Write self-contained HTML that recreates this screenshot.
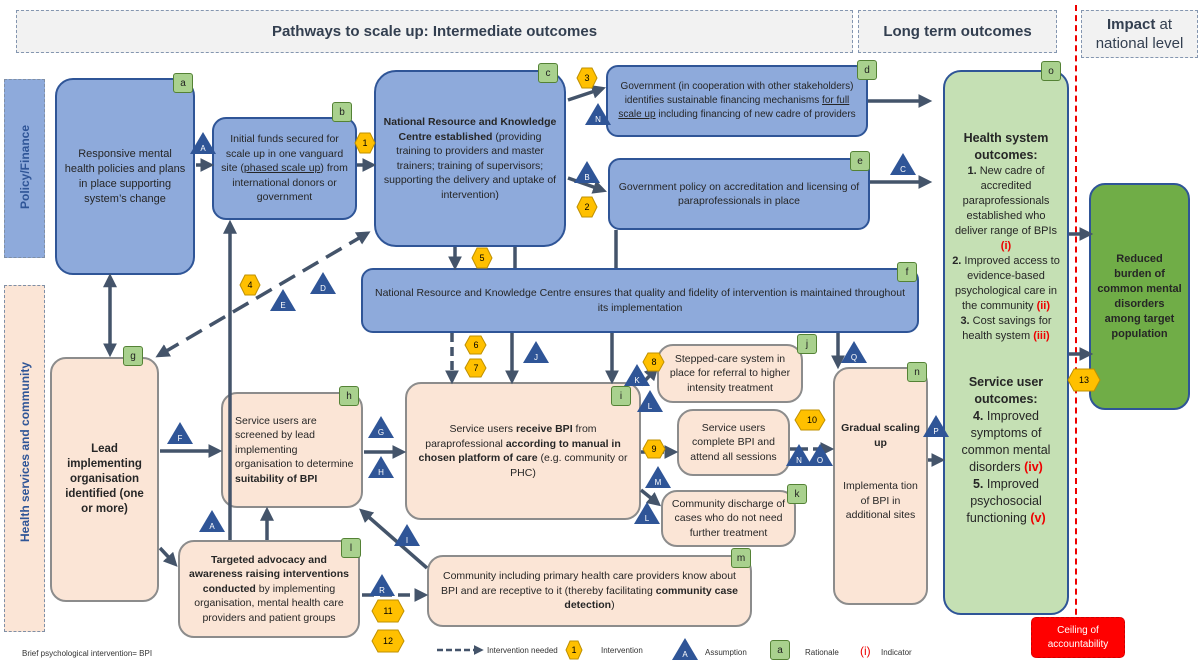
<!DOCTYPE html>
<html><head><meta charset="utf-8"><style>
body{margin:0;background:#fff;}
#w{position:relative;width:1200px;height:665px;overflow:hidden;font-family:"Liberation Sans",sans-serif;color:#262626;}
.b{position:absolute;box-sizing:border-box;display:flex;align-items:center;justify-content:center;text-align:center;font-size:10.5px;line-height:14.5px;padding:4px 6px;}
.bl{background:#8eaadb;border:2px solid #2f5597;border-radius:18px;}
.pe{background:#fbe5d6;border:2px solid #8c8c8c;border-radius:16px;}
.hd{position:absolute;box-sizing:border-box;background:#f2f2f2;border:1.5px dashed #8496b0;display:flex;align-items:center;justify-content:center;font-weight:bold;color:#333f50;font-size:15px;}
.lab{position:absolute;width:20px;height:20px;box-sizing:border-box;background:#a9d18e;border:1.5px solid #548235;border-radius:3px;font-size:10px;display:flex;align-items:center;justify-content:center;color:#222;}
.side{position:absolute;box-sizing:border-box;border:1.5px dashed #7f8fa6;}
.vt{position:absolute;transform:rotate(-90deg);font-weight:bold;font-size:12px;color:#2f5597;white-space:nowrap;}
.r{color:#e00;font-weight:bold}
</style></head><body><div id="w">
<div class="hd" style="left:16px;top:10px;width:837px;height:43px;">Pathways to scale up: Intermediate outcomes</div>
<div class="hd" style="left:858px;top:10px;width:199px;height:43px;">Long term outcomes</div>
<div class="hd" style="left:1081px;top:10px;width:117px;height:48px;font-weight:normal;line-height:19px;flex-direction:column;"><span><b>Impact</b> at</span><span>national level</span></div>
<div style="position:absolute;left:1075px;top:5px;height:640px;border-left:2px dashed #e00;"></div>

<div class="side" style="left:4px;top:79px;width:41px;height:179px;background:#8eaadb;"></div>
<div class="vt" style="left:-20px;top:160px;width:90px;text-align:center;">Policy/Finance</div>
<div class="side" style="left:4px;top:285px;width:41px;height:347px;background:#fbe5d6;"></div>
<div class="vt" style="left:-60px;top:450px;width:170px;text-align:center;">Health services and community</div>

<div class="b bl" style="left:55px;top:78px;width:140px;height:197px;font-size:11px;line-height:15px;"><span>Responsive mental health policies and plans in place supporting system’s change</span></div>
<div class="b bl" style="left:212px;top:117px;width:145px;height:103px;border-radius:14px;"><span>Initial funds secured for scale up in one vanguard site (<u>phased scale up</u>) from international donors or government</span></div>
<div class="b bl" style="left:374px;top:70px;width:192px;height:177px;border-radius:22px;"><span><b>National Resource and Knowledge Centre established</b> (providing training to providers and master trainers; training of supervisors; supporting the delivery and uptake of intervention)</span></div>
<div class="b bl" style="left:606px;top:65px;width:262px;height:72px;border-radius:12px;font-size:10px;line-height:14px;"><span>Government (in cooperation with other stakeholders) identifies sustainable financing mechanisms <u>for full scale up</u> including financing of new cadre of providers</span></div>
<div class="b bl" style="left:608px;top:158px;width:262px;height:72px;border-radius:12px;"><span>Government policy on accreditation and licensing of paraprofessionals in place</span></div>
<div class="b bl" style="left:361px;top:268px;width:558px;height:65px;border-radius:12px;"><span>National Resource and Knowledge Centre ensures that quality and fidelity of intervention is maintained throughout its implementation</span></div>

<div class="b pe" style="left:50px;top:357px;width:109px;height:245px;font-size:11.5px;line-height:15px;"><b>Lead implementing organisation identified (one or more)</b></div>
<div class="b pe" style="left:221px;top:392px;width:142px;height:116px;text-align:left;justify-content:flex-start;padding-left:12px;"><span>Service users are screened by lead implementing organisation to determine <b>suitability of BPI</b></span></div>
<div class="b pe" style="left:405px;top:382px;width:236px;height:138px;"><span>Service users <b>receive BPI</b> from paraprofessional <b>according to manual in chosen platform of care</b> (e.g. community or PHC)</span></div>
<div class="b pe" style="left:657px;top:344px;width:146px;height:59px;padding-top:0;padding-bottom:0;"><span>Stepped-care system in place for referral to higher intensity treatment</span></div>
<div class="b pe" style="left:677px;top:409px;width:113px;height:67px;"><span>Service users complete BPI and attend all sessions</span></div>
<div class="b pe" style="left:661px;top:490px;width:135px;height:57px;padding-top:0;padding-bottom:0;"><span>Community discharge of cases who do not need further treatment</span></div>
<div class="b pe" style="left:178px;top:540px;width:182px;height:98px;"><span><b>Targeted advocacy and awareness raising interventions conducted</b> by implementing organisation, mental health care providers and patient groups</span></div>
<div class="b pe" style="left:427px;top:555px;width:325px;height:72px;"><span>Community including primary health care providers know about BPI and are receptive to it (thereby facilitating <b>community case detection</b>)</span></div>
<div class="b pe" style="left:833px;top:367px;width:95px;height:238px;flex-direction:column;justify-content:flex-start;padding-top:52px;"><b>Gradual scaling up</b><br><br><span>Implementa tion of BPI in additional sites</span></div>

<div class="b" style="left:943px;top:70px;width:126px;height:545px;background:#c5e0b4;border:2px solid #2f5597;border-radius:18px;flex-direction:column;justify-content:flex-start;padding:58px 4px 0;font-size:11px;line-height:15px;">
<b style="font-size:12.5px;line-height:17px">Health system outcomes:</b>
<span><b>1.</b> New cadre of accredited paraprofessionals established who deliver range of BPIs <span class="r">(i)</span></span>
<span><b>2.</b> Improved access to evidence-based psychological care in the community <span class="r">(ii)</span></span>
<span><b>3.</b> Cost savings for health system <span class="r">(iii)</span></span>
<br><br>
<b style="font-size:12.5px;line-height:17px">Service user outcomes:</b>
<span style="font-size:12.5px;line-height:17px"><b>4.</b> Improved symptoms of common mental disorders <span class="r">(iv)</span></span>
<span style="font-size:12.5px;line-height:17px"><b>5.</b> Improved psychosocial functioning <span class="r">(v)</span></span>
</div>
<div class="b" style="left:1089px;top:183px;width:101px;height:227px;background:#70ad47;border:2px solid #2f5597;border-radius:16px;font-size:11px;line-height:15px;"><b>Reduced burden of common mental disorders among target population</b></div>
<div class="b" style="left:1031px;top:617px;width:94px;height:41px;background:#ff0000;border:1.5px dashed #c00;border-radius:5px;color:#fff;font-size:10px;line-height:14px;"><span>Ceiling of accountability</span></div>

<svg style="position:absolute;left:0;top:0" width="1200" height="665">
<defs><marker id="ah" markerWidth="4" markerHeight="4" refX="2.5" refY="2" orient="auto" markerUnits="strokeWidth"><path d="M0,0 L4,2 L0,4 z" fill="#44546a"/></marker>
<marker id="as" markerWidth="4" markerHeight="4" refX="1.5" refY="2" orient="auto-start-reverse" markerUnits="strokeWidth"><path d="M0,0 L4,2 L0,4 z" fill="#44546a"/></marker></defs>
<g stroke="#44546a" stroke-width="3.5" fill="none" marker-end="url(#ah)">
<line x1="196" y1="165" x2="209" y2="165"/>
<line x1="357" y1="165" x2="371" y2="165"/>
<line x1="568" y1="100" x2="601" y2="89"/>
<line x1="568" y1="178" x2="602" y2="190"/>
<line x1="868" y1="101" x2="927" y2="101"/>
<line x1="870" y1="182" x2="927" y2="182"/>
<line x1="1069" y1="234" x2="1088" y2="234"/>
<line x1="1069" y1="354" x2="1088" y2="354"/>
<line x1="455" y1="247" x2="455" y2="265"/>
<line x1="512" y1="333" x2="512" y2="379"/>
<line x1="612" y1="333" x2="612" y2="379"/>
<line x1="838" y1="333" x2="838" y2="364"/>
<line x1="230" y1="540" x2="230" y2="225"/>
<line x1="267" y1="540" x2="267" y2="512"/>
<line x1="160" y1="451" x2="217" y2="451"/>
<line x1="364" y1="452" x2="401" y2="452"/>
<line x1="160" y1="548" x2="174" y2="563"/>
<line x1="427" y1="568" x2="363" y2="512"/>
<line x1="641" y1="385" x2="655" y2="370"/>
<line x1="641" y1="490" x2="657" y2="503"/>
<line x1="928" y1="460" x2="940" y2="460"/>
<line x1="110" y1="282" x2="110" y2="352" marker-start="url(#as)"/>
<line x1="799" y1="449" x2="829" y2="449" stroke-dasharray="9,5"/>
<line x1="641" y1="452" x2="673" y2="452" stroke-dasharray="9,5"/>
<line x1="452" y1="333" x2="452" y2="379" stroke-dasharray="9,5"/>
<line x1="362" y1="595" x2="423" y2="595" stroke-dasharray="12,6"/>
<line x1="163" y1="353" x2="366" y2="234" stroke-dasharray="18,9" marker-start="url(#as)"/>
<line x1="437" y1="650" x2="480" y2="650" stroke-width="2.5" stroke-dasharray="6,3"/>
</g>
<g stroke="#44546a" stroke-width="3.5"><line x1="515" y1="247" x2="515" y2="268"/><line x1="616" y1="230" x2="616" y2="268"/><line x1="790" y1="449" x2="800" y2="449"/></g>
<g font-family="Liberation Sans" font-size="9" text-anchor="middle">
<polygon points="355,143 360,133 370,133 375,143 370,153 360,153" fill="#ffc000" stroke="#bf9000"/><text x="365" y="146">1</text>
<polygon points="577,207 582,197 592,197 597,207 592,217 582,217" fill="#ffc000" stroke="#bf9000"/><text x="587" y="210">2</text>
<polygon points="577,78 582,68 592,68 597,78 592,88 582,88" fill="#ffc000" stroke="#bf9000"/><text x="587" y="81">3</text>
<polygon points="240,285 245,275 255,275 260,285 255,295 245,295" fill="#ffc000" stroke="#bf9000"/><text x="250" y="288">4</text>
<polygon points="472,258 477,248 487,248 492,258 487,268 477,268" fill="#ffc000" stroke="#bf9000"/><text x="482" y="261">5</text>
<polygon points="465,345 470,336 481,336 486,345 481,354 470,354" fill="#ffc000" stroke="#bf9000"/><text x="476" y="348">6</text>
<polygon points="465,368 470,359 481,359 486,368 481,377 470,377" fill="#ffc000" stroke="#bf9000"/><text x="476" y="371">7</text>
<polygon points="643,362 648,353 659,353 664,362 659,371 648,371" fill="#ffc000" stroke="#bf9000"/><text x="654" y="365">8</text>
<polygon points="643,449 648,440 660,440 665,449 660,458 648,458" fill="#ffc000" stroke="#bf9000"/><text x="654" y="452">9</text>
<polygon points="795,420 801,410 819,410 825,420 819,430 801,430" fill="#ffc000" stroke="#bf9000"/><text x="812" y="423">10</text>
<polygon points="372,611 378,600 398,600 404,611 398,622 378,622" fill="#ffc000" stroke="#bf9000"/><text x="388" y="614">11</text>
<polygon points="372,641 378,630 398,630 404,641 398,652 378,652" fill="#ffc000" stroke="#bf9000"/><text x="388" y="644">12</text>
<polygon points="1068,380 1074,369 1094,369 1100,380 1094,391 1074,391" fill="#ffc000" stroke="#bf9000"/><text x="1084" y="383">13</text>
<polygon points="566,650 570,641 578,641 582,650 578,659 570,659" fill="#ffc000" stroke="#bf9000"/><text x="574" y="653">1</text>
</g>
<g font-family="Liberation Sans" font-size="8" fill="#fff" text-anchor="middle">
<g fill="#2f5597">
<polygon points="203,132 190,154 216,154"/><polygon points="212,510 199,532 225,532"/><polygon points="587,161 574,183 600,183"/><polygon points="598,103 585,125 611,125"/><polygon points="903,153 890,175 916,175"/><polygon points="323,272 310,294 336,294"/><polygon points="283,289 270,311 296,311"/><polygon points="180,422 167,444 193,444"/><polygon points="381,416 368,438 394,438"/><polygon points="381,456 368,478 394,478"/><polygon points="407,524 394,546 420,546"/><polygon points="536,341 523,363 549,363"/><polygon points="637,364 624,386 650,386"/><polygon points="650,390 637,412 663,412"/><polygon points="647,502 634,524 660,524"/><polygon points="658,466 645,488 671,488"/><polygon points="799,444 786,466 812,466"/><polygon points="820,444 807,466 833,466"/><polygon points="936,415 923,437 949,437"/><polygon points="854,341 841,363 867,363"/><polygon points="382,574 369,596 395,596"/><polygon points="685,638 672,660 698,660"/>
</g>
<text x="203" y="151">A</text><text x="212" y="529">A</text><text x="587" y="180">B</text><text x="598" y="122">N</text><text x="903" y="172">C</text><text x="323" y="291">D</text><text x="283" y="308">E</text><text x="180" y="441">F</text><text x="381" y="435">G</text><text x="381" y="475">H</text><text x="407" y="543">I</text><text x="536" y="360">J</text><text x="637" y="383">K</text><text x="650" y="409">L</text><text x="647" y="521">L</text><text x="658" y="485">M</text><text x="799" y="463">N</text><text x="820" y="463">O</text><text x="936" y="434">P</text><text x="854" y="360">Q</text><text x="382" y="593">R</text><text x="685" y="657">A</text>
</g>
<g font-family="Liberation Sans" font-size="8" fill="#333">
<text x="22" y="656">Brief psychological intervention= BPI</text>
<text x="487" y="653">Intervention needed</text>
<text x="601" y="653">Intervention</text>
<text x="705" y="655">Assumption</text>
<text x="805" y="655">Rationale</text>
<text x="860" y="655" fill="#e00" font-size="12">(i)</text>
<text x="881" y="655">Indicator</text>
</g>
</svg>
<div class="lab" style="left:173px;top:73px;">a</div>
<div class="lab" style="left:332px;top:102px;">b</div>
<div class="lab" style="left:538px;top:63px;">c</div>
<div class="lab" style="left:857px;top:60px;">d</div>
<div class="lab" style="left:850px;top:151px;">e</div>
<div class="lab" style="left:897px;top:262px;">f</div>
<div class="lab" style="left:123px;top:346px;">g</div>
<div class="lab" style="left:339px;top:386px;">h</div>
<div class="lab" style="left:611px;top:386px;">i</div>
<div class="lab" style="left:797px;top:334px;">j</div>
<div class="lab" style="left:787px;top:484px;">k</div>
<div class="lab" style="left:341px;top:538px;">l</div>
<div class="lab" style="left:731px;top:548px;">m</div>
<div class="lab" style="left:907px;top:362px;">n</div>
<div class="lab" style="left:1041px;top:61px;">o</div>
<div class="lab" style="left:770px;top:640px;">a</div>
</div></body></html>
